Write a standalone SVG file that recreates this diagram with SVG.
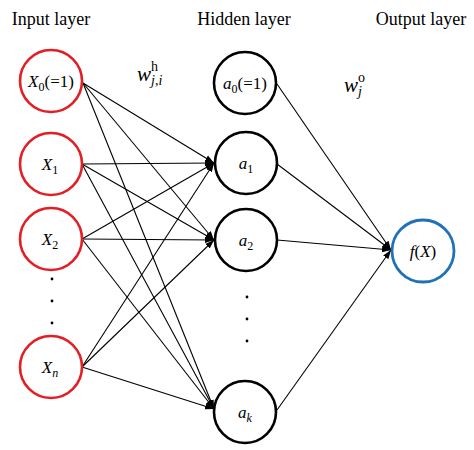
<svg xmlns="http://www.w3.org/2000/svg" width="474" height="450" viewBox="0 0 474 450">
<defs>
<marker id="arr" markerUnits="userSpaceOnUse" markerWidth="10" markerHeight="8" refX="9" refY="4" orient="auto">
<path d="M0,0.8 L9,4 L0,7.2 Z" fill="#000"/>
</marker>
</defs>
<style>
.t{font-family:"Liberation Serif","Times New Roman",serif;font-size:18px;fill:#000}
.lb{font-family:"Liberation Serif","Times New Roman",serif;font-size:17px;fill:#000}
.i{font-style:italic}
.s{font-size:12px}
.ws{font-size:14px}
.in{fill:#fff;stroke:#e31e24;stroke-width:2.6}
.hd{fill:#fff;stroke:#000;stroke-width:2.6}
.out{fill:#fff;stroke:#1f72b8;stroke-width:2.8}
.c line{stroke:#000;stroke-width:1.1;marker-end:url(#arr)}
.w{font-family:"Liberation Serif","Times New Roman",serif;font-style:italic;font-size:21px}
.dot{fill:#000}
</style>
<rect width="474" height="450" fill="#fff"/>
<text class="t" x="51" y="25" text-anchor="middle">Input layer</text>
<text class="t" x="244" y="25" text-anchor="middle">Hidden layer</text>
<text class="t" x="421" y="25" text-anchor="middle">Output layer</text>
<g class="c" id="connectors">
<line x1="83" y1="83" x2="214" y2="163"/>
<line x1="83" y1="83" x2="214" y2="240"/>
<line x1="83" y1="83" x2="214" y2="409"/>
<line x1="82" y1="164" x2="214" y2="163"/>
<line x1="82" y1="164" x2="214" y2="240"/>
<line x1="82" y1="164" x2="214" y2="409"/>
<line x1="82" y1="239" x2="214" y2="163"/>
<line x1="82" y1="239" x2="214" y2="240"/>
<line x1="82" y1="239" x2="214" y2="409"/>
<line x1="82" y1="367" x2="214" y2="163"/>
<line x1="82" y1="367" x2="214" y2="240"/>
<line x1="82" y1="367" x2="214" y2="409"/>
<line x1="277" y1="84" x2="391" y2="250"/>
<line x1="277" y1="164" x2="391" y2="250"/>
<line x1="277" y1="240" x2="391" y2="250"/>
<line x1="277" y1="410" x2="391" y2="250"/>
</g>
<g id="x0"><circle class="in" cx="51" cy="81" r="31"/><text class="lb" x="51" y="87" text-anchor="middle"><tspan class="i">X</tspan><tspan class="s" dy="4">0</tspan><tspan dy="-4">(=1)</tspan></text></g>
<g id="x1"><circle class="in" cx="51" cy="164" r="31"/><text class="lb" x="50" y="170" text-anchor="middle"><tspan class="i">X</tspan><tspan class="s" dy="4">1</tspan></text></g>
<g id="x2"><circle class="in" cx="51" cy="239" r="31"/><text class="lb" x="50" y="245" text-anchor="middle"><tspan class="i">X</tspan><tspan class="s" dy="4">2</tspan></text></g>
<g id="xn"><circle class="in" cx="51" cy="367" r="31"/><text class="lb" x="50" y="373" text-anchor="middle"><tspan class="i">X</tspan><tspan class="s i" dy="4">n</tspan></text></g>
<g id="input-dots"><circle class="dot" cx="52" cy="279" r="1.4"/><circle class="dot" cx="52" cy="301" r="1.4"/><circle class="dot" cx="52" cy="323" r="1.4"/></g>
<g id="a0"><circle class="hd" cx="245" cy="83" r="31"/><text class="lb" x="245" y="89" text-anchor="middle"><tspan class="i">a</tspan><tspan class="s" dy="4">0</tspan><tspan dy="-4">(=1)</tspan></text></g>
<g id="a1"><circle class="hd" cx="246" cy="163" r="31"/><text class="lb" x="246" y="169" text-anchor="middle"><tspan class="i">a</tspan><tspan class="s" dy="4">1</tspan></text></g>
<g id="a2"><circle class="hd" cx="246" cy="240" r="31"/><text class="lb" x="246" y="246" text-anchor="middle"><tspan class="i">a</tspan><tspan class="s" dy="4">2</tspan></text></g>
<g id="ak"><circle class="hd" cx="245" cy="412" r="31"/><text class="lb" x="245" y="418" text-anchor="middle"><tspan class="i">a</tspan><tspan class="s i" dy="4">k</tspan></text></g>
<g id="hidden-dots"><circle class="dot" cx="247" cy="297" r="1.4"/><circle class="dot" cx="247" cy="319" r="1.4"/><circle class="dot" cx="247" cy="341" r="1.4"/></g>
<g id="fx"><circle class="out" cx="423" cy="251" r="31"/><text class="lb" x="423" y="257" text-anchor="middle"><tspan class="i">f</tspan>(<tspan class="i">X</tspan>)</text></g>
<g id="weights">
<text class="w" x="137" y="81">w<tspan class="ws" font-style="normal" dy="-10">h</tspan><tspan class="ws" dx="-7" dy="14">j,i</tspan></text>
<text class="w" x="344" y="92">w<tspan class="ws" font-style="normal" dy="-10">o</tspan><tspan class="ws" dx="-7" dy="14">j</tspan></text>
</g>
</svg>
